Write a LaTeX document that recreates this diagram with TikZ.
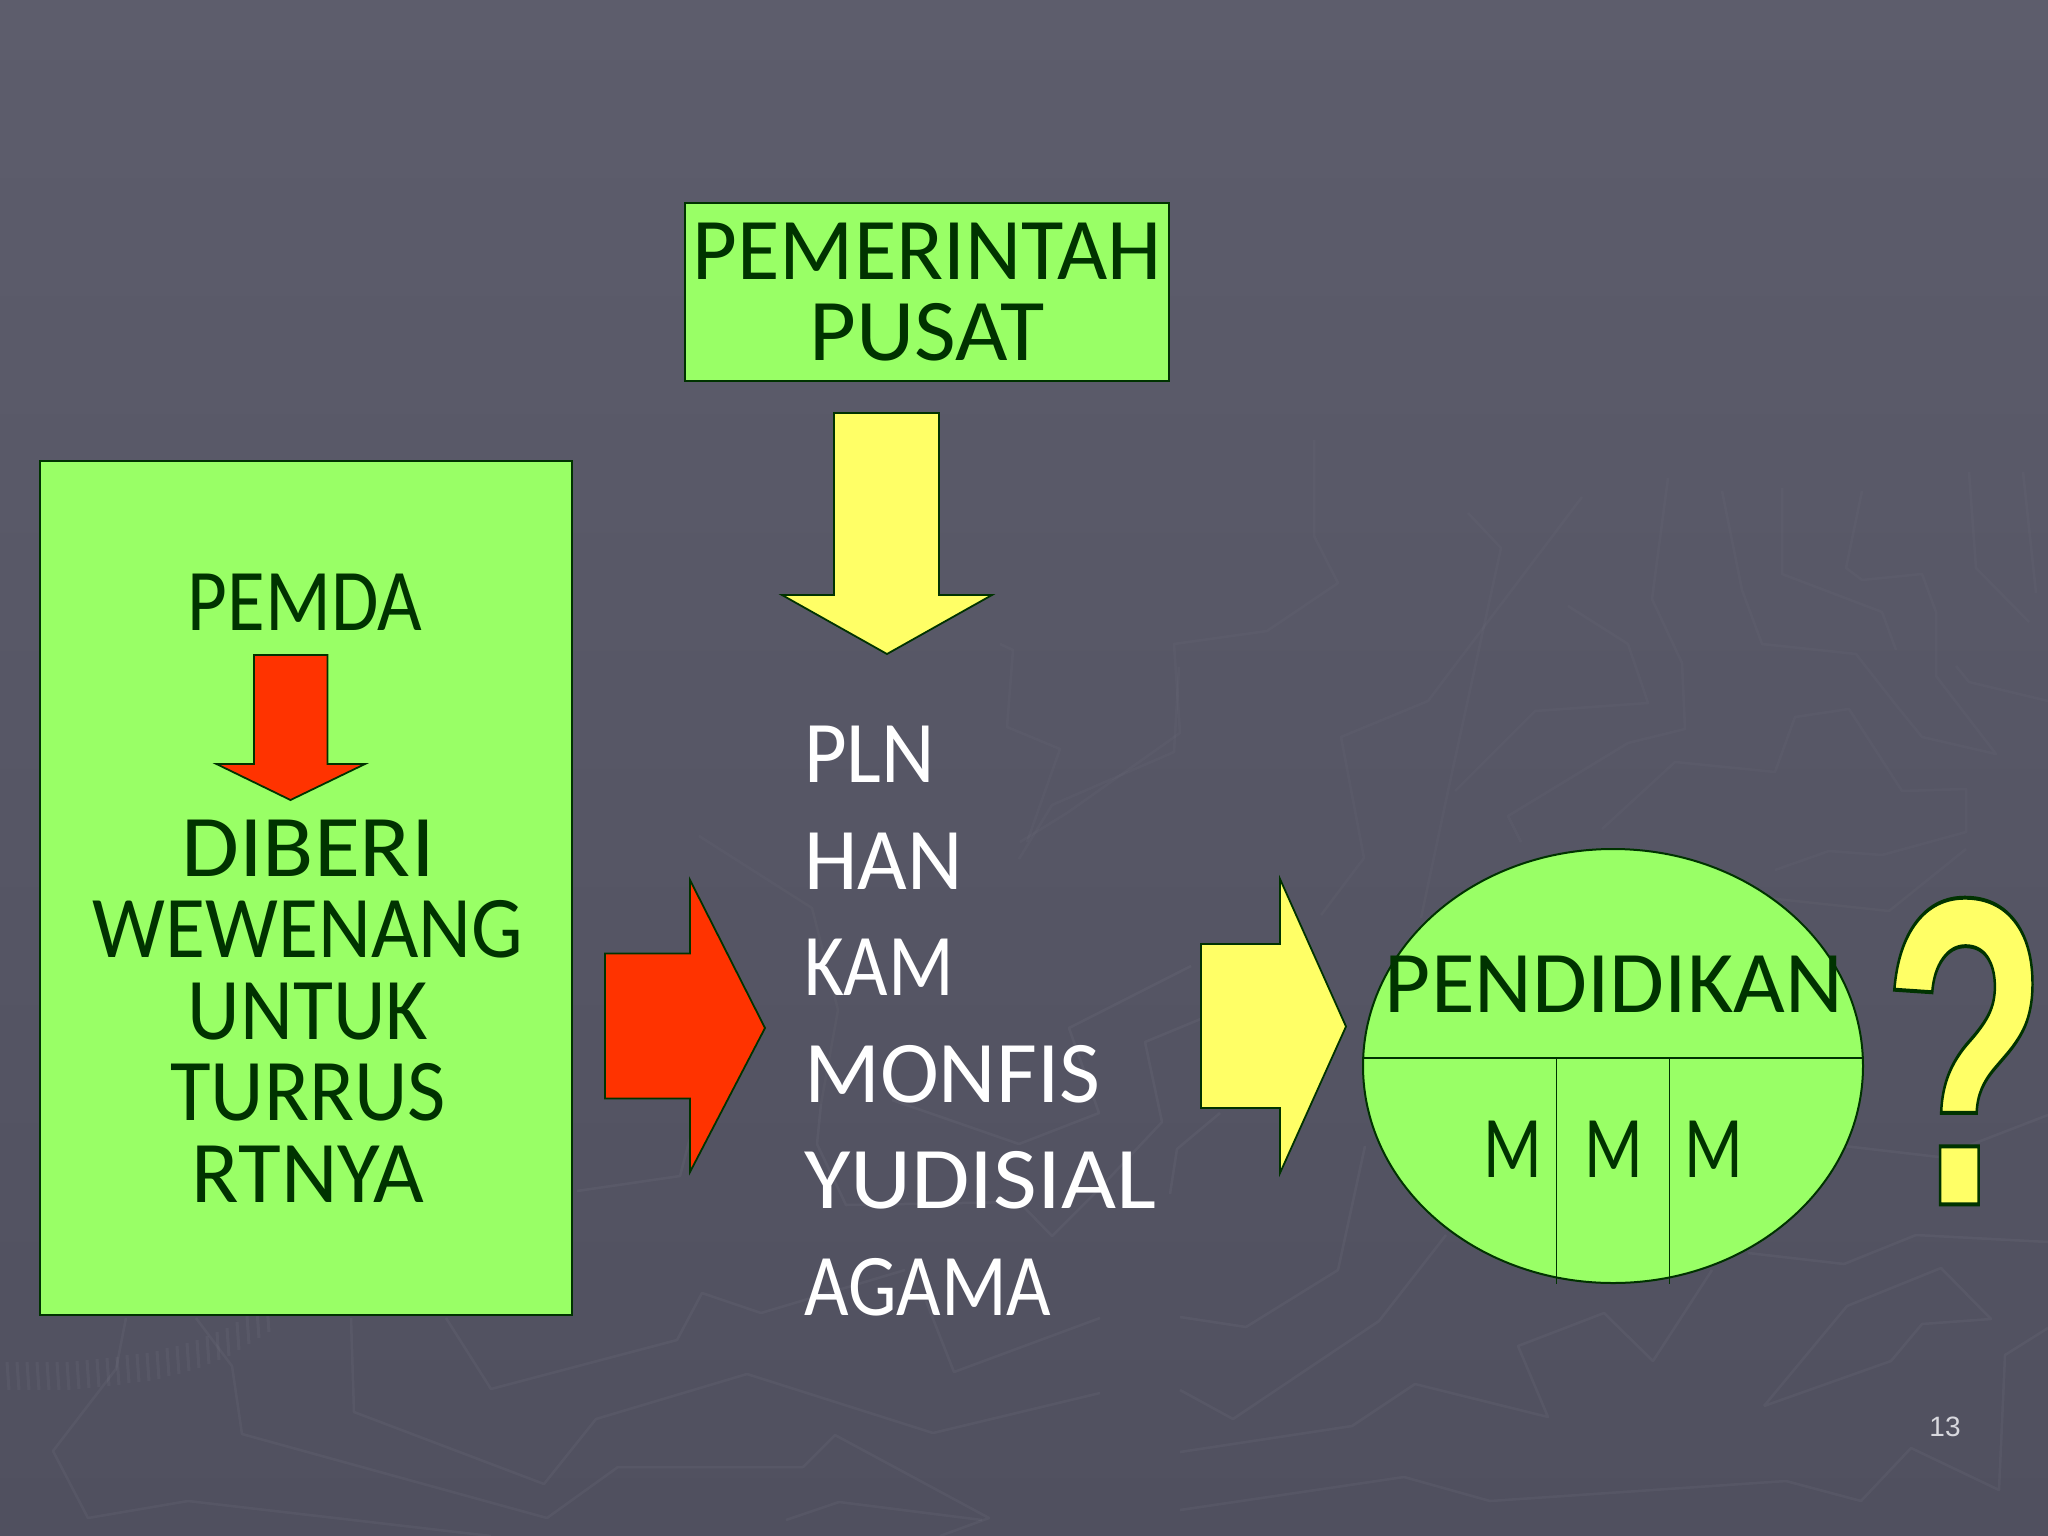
\documentclass[tikz,border=0pt]{standalone}
\usepackage{fontspec}
\usepackage{graphicx}
\setmainfont{Carlito}
\newfontfamily\pagefont{Liberation Sans}
\newfontfamily\wordartfont{Liberation Sans}[Scale=1]
\definecolor{bgtop}{HTML}{5D5D6C}
\definecolor{bgbottom}{HTML}{50505F}
\definecolor{leafgreen}{HTML}{99FF66}
\definecolor{sunyellow}{HTML}{FFFF66}
\definecolor{alertred}{HTML}{FF3300}
\definecolor{inkgreen}{HTML}{003300}
\definecolor{pagegrey}{HTML}{D8D8DE}
\newcommand{\sx}[2]{\scalebox{#1}[1]{#2}}
\tikzset{
  x=1pt,y=-1pt,
  panel/.style={draw=inkgreen,line width=2pt,fill=leafgreen,line join=miter},
  yellowarrow/.style={draw=inkgreen,line width=1.8pt,fill=sunyellow,line join=miter},
  redarrow/.style={draw=inkgreen,line width=1.8pt,fill=alertred,line join=miter},
  divider/.style={draw=inkgreen,line width=1.6pt},
  bgtrace/.style={draw=white,draw opacity=0.04,line width=2.5pt,line join=round},
  bgfaint/.style={draw=white,draw opacity=0.022,line width=2.5pt,line join=round},
  hand/.style={font=\fontsize{88}{81.5}\selectfont,text=inkgreen,inner sep=0pt,outer sep=0pt,align=center},
  handwhite/.style={font=\fontsize{88}{106.6}\selectfont,text=white,inner sep=0pt,outer sep=0pt,align=left},
}
\begin{document}
\begin{tikzpicture}
\useasboundingbox (0,0) rectangle (2048,1536);
\shade[top color=bgtop,bottom color=bgbottom] (0,0) rectangle (2048,1536);
% faint background tracery, lower part
\foreach \pts in {
 {(351,1318)--(354,1412)--(544,1484)--(596,1419)--(747,1374)--(933,1433)--(1100,1393)},
 {(196,1318)--(232,1366)--(242,1434)--(547,1518)--(618,1467)--(803,1467)--(835,1435)--(989,1518)--(940,1536)},
 {(446,1318)--(491,1389)--(677,1340)--(702,1293)--(761,1313)--(905,1270)},
 {(126,1318)--(116,1369)--(53,1451)--(88,1518)--(188,1501)--(491,1536)},
 {(1100,1318)--(954,1372)--(926,1301)},
 {(786,1520)--(839,1502)--(982,1520)},
 {(1180,1452)--(1352,1426)--(1415,1384)--(1548,1417)--(1518,1346)--(1604,1313)--(1653,1361)--(1712,1270)},
 {(1180,1510)--(1404,1477)--(1490,1501)--(1786,1481)--(1861,1501)--(1911,1448)--(1999,1490)--(2005,1355)--(2048,1328)},
 {(1764,1406)--(1891,1361)--(1922,1324)--(1991,1319)--(1941,1268)--(1847,1306)--(1764,1406)},
 {(1180,1390)--(1233,1419)--(1379,1321)--(1446,1235)},
 {(1180,1317)--(1246,1327)--(1338,1270)--(1365,1146)},
 {(1748,1253)--(1844,1264)--(1916,1235)--(2048,1242)},
 {(1844,1146)--(1939,1157)--(2048,1115)},
 {(577,1191)--(680,1176)--(700,1100)},
 {(821,1104)--(817,1144)--(846,1205)--(1019,1202)--(1052,1236)--(1099,1189)--(1162,1122)--(1145,1042)--(1220,1011)},
 {(892,1100)--(1019,1144)--(1099,1113)--(1069,1028)--(1191,966)},
 {(1170,1194)--(1177,1149)--(1220,1113)}
}{\expandafter\draw\expandafter[\expandafter b\expandafter g\expandafter t\expandafter r\expandafter a\expandafter c\expandafter e\expandafter] \pts;}
% faint background tracery, upper part
\foreach \pts in {
 {(1767,898)--(1889,911)--(1966,849)},
 {(1314,440)--(1314,536)--(1338,583)--(1267,631)--(1174,644)--(1180,733)--(1067,813)--(1020,842)},
 {(1582,497)--(1428,701)--(1341,737)--(1364,858)--(1321,915)},
 {(1468,513)--(1501,548)--(1448,791)--(1421,918)},
 {(1568,606)--(1628,644)--(1648,703)--(1535,711)--(1455,791)},
 {(1668,478)--(1652,599)--(1682,663)--(1685,729)--(1628,743)--(1508,816)--(1521,842)},
 {(1602,829)--(1675,762)--(1775,772)--(1795,717)--(1849,709)--(1902,791)--(1966,789)--(1966,832)--(1882,855)--(1829,851)--(1775,870)},
 {(1722,491)--(1742,590)--(1762,644)--(1856,654)--(1896,705)--(1922,737)--(1996,754)--(1936,676)--(1936,612)},
 {(1782,488)--(1782,574)--(1882,612)--(1896,650)},
 {(1862,491)--(1846,568)--(1862,580)--(1922,574)--(1936,612)},
 {(1969,472)--(1976,568)--(2029,622)},
 {(2023,472)--(2036,593)},
 {(1956,666)--(1969,682)--(2048,701)},
 {(1000,644)--(1013,650)--(1007,727)--(1060,749)--(1027,842)},
 {(699,836)--(812,908)--(838,1010)--(821,1104)},
 {(1019,859)--(1052,805)--(1174,752)--(1179,667)}
}{\expandafter\draw\expandafter[\expandafter b\expandafter g\expandafter f\expandafter a\expandafter i\expandafter n\expandafter t\expandafter] \pts;}
\foreach \xa/\ya in {7/1376,17/1376,27/1376,37/1376,47/1376,57/1376,67/1376,77/1375,87/1374,97/1373,107/1372,117/1371,127/1369,137/1368,147/1367,157/1365,167/1362,177/1360,187/1357,197/1354,207/1350,217/1346,227/1342,237/1336,247/1330,257/1324,267/1318}
  \draw[bgtrace,line width=3pt] (\xa,\ya-14) -- (\xa+2,\ya+14);

% left panel
\draw[panel] (40,461) rectangle (572,1315);
\node[hand] (pemda) at (305,602) {\sx{0.876}{PEMDA}};
\draw[redarrow] (254,655) -- (327.5,655) -- (327.5,764) -- (365,764) -- (290.5,800) -- (216.5,764) -- (254,764) -- cycle;
\node[hand] (wewenang) at (308,1011) {\sx{1.07}{DIBERI}\\\sx{0.93}{WEWENANG}\\\sx{0.93}{UNTUK}\\\sx{0.945}{TURRUS}\\\sx{0.995}{RTNYA}};

% top panel
\draw[panel] (685,203) rectangle (1169,381);
\node[hand] (pusat) at (927,292) {\sx{0.986}{PEMERINTAH}\\\sx{1.03}{PUSAT}};
\draw[yellowarrow] (834,413) -- (939,413) -- (939,595) -- (992,595) -- (887,654) -- (782,595) -- (834,595) -- cycle;

% list
\node[handwhite,anchor=west] (list) at (804,1021) {\sx{0.94}{PLN}\\\sx{0.975}{HAN}\\\sx{0.873}{KAM}\\\sx{1.01}{MONFIS}\\\sx{1.08}{YUDISIAL}\\\sx{0.874}{AGAMA}};

% side arrows
\draw[redarrow] (605,953.5) -- (690,953.5) -- (690,880) -- (765,1028) -- (690,1172) -- (690,1098.5) -- (605,1098.5) -- cycle;
\draw[yellowarrow] (1201,944) -- (1280,944) -- (1280,879) -- (1346,1026.5) -- (1280,1173) -- (1280,1108) -- (1201,1108) -- cycle;

% circle
\draw[panel] (1613,1066) ellipse [x radius=250,y radius=217];
\coordinate (hl) at (1363,1058);
\coordinate (hr) at (1863,1058);
\coordinate (v1t) at (1556.5,1058);
\coordinate (v1b) at (1556.5,1284);
\coordinate (v2t) at (1669.5,1058);
\coordinate (v2b) at (1669.5,1284);
\draw[divider] (hl) -- (hr);
\draw[divider] (v1t) -- (v1b);
\draw[divider] (v2t) -- (v2b);
\node[hand] (pend) at (1614,984) {\sx{1.015}{PENDIDIKAN}};
\node[hand] (m1) at (1513,1149) {\sx{0.78}{M}};
\node[hand] (m2) at (1614,1149) {\sx{0.78}{M}};
\node[hand] (m3) at (1714,1149) {\sx{0.78}{M}};

% question mark
\node[inner sep=0pt,outer sep=0pt,text=sunyellow] (q) at (1965,1051) {\resizebox{166pt}{306pt}{\wordartfont\bfseries\special{pdf:code 0 0.2 0 RG 2 Tr 0.09 w}?\special{pdf:code 0 Tr}}};

\node[font=\pagefont\fontsize{28}{30}\selectfont,text=pagegrey,inner sep=0pt] (num) at (1945,1427) {13};
\end{tikzpicture}
\end{document}
